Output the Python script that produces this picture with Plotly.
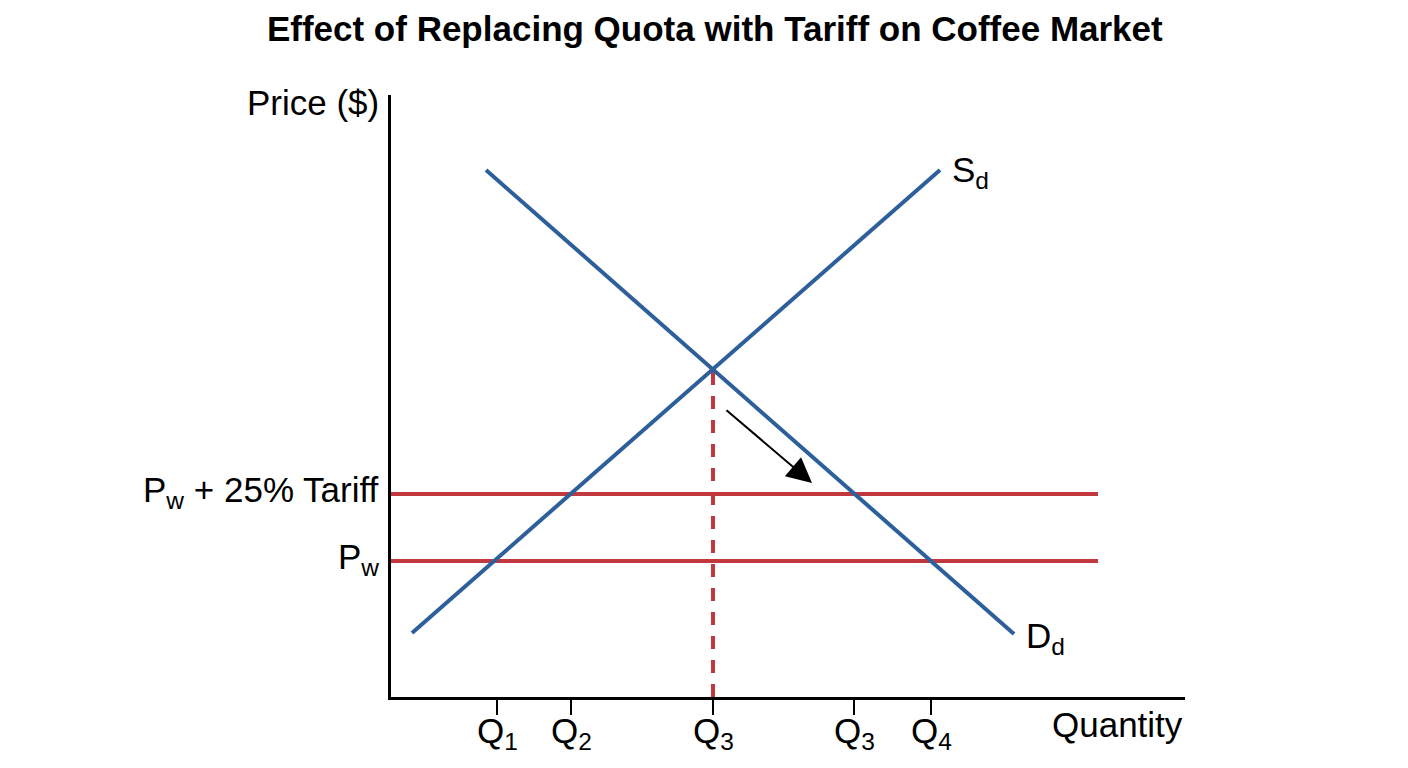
import plotly.graph_objects as go

# Data (arbitrary units)
supply_x = [2.1, 54.9]
supply_y = [6.4, 52.7]
demand_x = [9.5, 62.3]
demand_y = [52.7, 6.3]
price_levels = [20.3, 13.6]          # Pw + 25% Tariff, Pw
price_labels = ["P<sub>w</sub> + 25% Tariff", "P<sub>w</sub>"]
price_line_x = [0, 70.7]
q_ticks = [10.6, 18.0, 32.2, 46.3, 54.0]
q_labels = ["Q<sub>1</sub>", "Q<sub>2</sub>", "Q<sub>3</sub>", "Q<sub>3</sub>", "Q<sub>4</sub>"]
equilibrium = (32.2, 32.7)
arrow_start = (33.4, 28.8)
arrow_end = (42.1, 21.4)

BLUE = "#2d5f9a"
RED = "#c1393f"
FONT = "Liberation Sans, Arial, Helvetica, sans-serif"
LS = 35

fig = go.Figure()

for y in price_levels:
    fig.add_trace(go.Scatter(x=price_line_x, y=[y, y], mode="lines",
                             line=dict(color=RED, width=4), hoverinfo="skip"))

fig.add_trace(go.Scatter(x=[equilibrium[0], equilibrium[0]], y=[0, equilibrium[1]],
                         mode="lines", line=dict(color=RED, width=4, dash="13px,11px"),
                         hoverinfo="skip"))

fig.add_trace(go.Scatter(x=supply_x, y=supply_y, mode="lines",
                         line=dict(color=BLUE, width=4), hoverinfo="skip"))
fig.add_trace(go.Scatter(x=demand_x, y=demand_y, mode="lines",
                         line=dict(color=BLUE, width=4), hoverinfo="skip"))

annotations = []
# arrow
annotations.append(dict(x=arrow_end[0], y=arrow_end[1], ax=arrow_start[0], ay=arrow_start[1],
                        xref="x", yref="y", axref="x", ayref="y", text="",
                        showarrow=True, arrowhead=2, arrowsize=2.5, arrowwidth=2,
                        arrowcolor="black"))
# price labels
for y, lab in zip(price_levels, price_labels):
    annotations.append(dict(x=0, y=y, xref="x", yref="y", text=lab, showarrow=False,
                            xanchor="right", yanchor="middle", xshift=-10, yshift=2,
                            font=dict(size=LS, color="black", family=FONT)))
# quantity tick labels
for q, lab in zip(q_ticks, q_labels):
    annotations.append(dict(x=q, y=0, xref="x", yref="y", text=lab, showarrow=False,
                            xanchor="center", yanchor="top", yshift=-12, xshift=0,
                            font=dict(size=LS, color="black", family=FONT)))
# axis titles
annotations.append(dict(x=79.4, y=0, xref="x", yref="y", text="Quantity", showarrow=False,
                        xanchor="right", yanchor="top", yshift=-6,
                        font=dict(size=LS, color="black", family=FONT)))
annotations.append(dict(x=0, y=60.2, xref="x", yref="y", text="Price ($)", showarrow=False,
                        xanchor="right", yanchor="top", xshift=-10, yshift=14,
                        font=dict(size=LS, color="black", family=FONT)))
# curve labels
annotations.append(dict(x=supply_x[1], y=supply_y[1], xref="x", yref="y", text="S<sub>d</sub>",
                        showarrow=False, xanchor="left", yanchor="middle", xshift=10, yshift=-2,
                        font=dict(size=LS, color="black", family=FONT)))
annotations.append(dict(x=demand_x[1], y=demand_y[1], xref="x", yref="y", text="D<sub>d</sub>",
                        showarrow=False, xanchor="left", yanchor="middle", xshift=10, yshift=-4,
                        font=dict(size=LS, color="black", family=FONT)))

fig.update_layout(
    width=1408, height=768,
    margin=dict(l=383, r=231, t=87, b=79),
    paper_bgcolor="white", plot_bgcolor="white",
    showlegend=False,
    title=dict(text="<b>Effect of Replacing Quota with Tariff on Coffee Market</b>",
               x=0.502, xanchor="center", y=0.973, yanchor="middle",
               font=dict(size=35, color="black", family=FONT)),
    annotations=annotations,
    xaxis=dict(range=[0, 79.4], showgrid=False, zeroline=False, showline=True,
               linecolor="black", linewidth=2.5, ticks="outside", ticklen=15, tickwidth=1.5,
               tickcolor="black", tickvals=q_ticks, showticklabels=False, fixedrange=True),
    yaxis=dict(range=[0, 60.2], showgrid=False, zeroline=False, showline=True,
               linecolor="black", linewidth=2.5, ticks="", showticklabels=False, fixedrange=True),
)

fig.write_html("out.html")
